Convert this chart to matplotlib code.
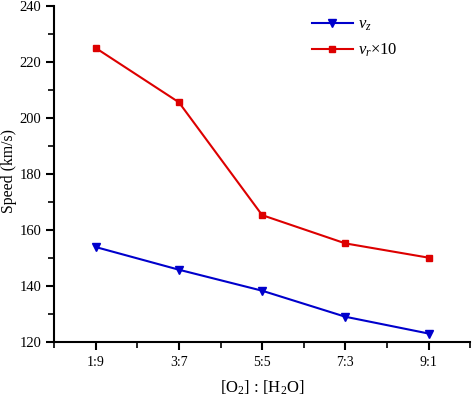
import matplotlib
matplotlib.use("Agg")
import matplotlib.pyplot as plt
from matplotlib.ticker import MultipleLocator

plt.rcParams["font.family"] = ["Liberation Serif", "DejaVu Serif"]
plt.rcParams["mathtext.fontset"] = "custom"
plt.rcParams["mathtext.rm"] = "Liberation Serif"
plt.rcParams["mathtext.it"] = "Liberation Serif:italic"

ratios = ["1:9", "3:7", "5:5", "7:3", "9:1"]
vz = [153.9, 145.8, 138.3, 129.0, 123.0]
vr10 = [225.0, 205.6, 165.3, 155.2, 150.1]

fig = plt.figure(figsize=(4.74, 3.99), dpi=100)
ax = fig.add_axes([0.114, 0.143, 0.878, 0.842])

x = list(range(len(ratios)))
ax.plot(x, vz, color="#0000cc", marker="v", markersize=6, lw=1.5, label=r"$v_z$")
ax.plot(x, vr10, color="#dd0000", marker="s", markersize=5, lw=1.5, label=r"$v_r$×10")

ax.set_xlim(-0.5, 4.5)
ax.set_ylim(120, 240)
ax.set_xticks(x)
ax.set_xticklabels(ratios)
ax.xaxis.set_minor_locator(MultipleLocator(0.5))
ax.yaxis.set_major_locator(MultipleLocator(20))
ax.yaxis.set_minor_locator(MultipleLocator(10))

for s in ["top", "right"]:
    ax.spines[s].set_visible(False)
for s in ["left", "bottom"]:
    ax.spines[s].set_linewidth(1.5)
ax.tick_params(which="major", direction="out", length=6, width=1.5, labelsize=10.5, pad=3)
ax.tick_params(which="minor", direction="out", length=4, width=1.2)
ax.tick_params(axis="x", labelsize=10, pad=4)

ax.set_ylabel("Speed (km/s)", fontsize=11.3)
ax.yaxis.set_label_coords(-0.088, 0.51)
ax.set_xlabel(r"[O$_2$] : [H$_2$O]", fontsize=12, labelpad=7)

ax.legend(loc="upper left", bbox_to_anchor=(0.658, 0.958), bbox_transform=fig.transFigure,
          frameon=False, fontsize=12, handlelength=2.45, handletextpad=0.3,
          labelspacing=0.5, borderpad=0, borderaxespad=0)

fig.savefig("out.png", dpi=100)
